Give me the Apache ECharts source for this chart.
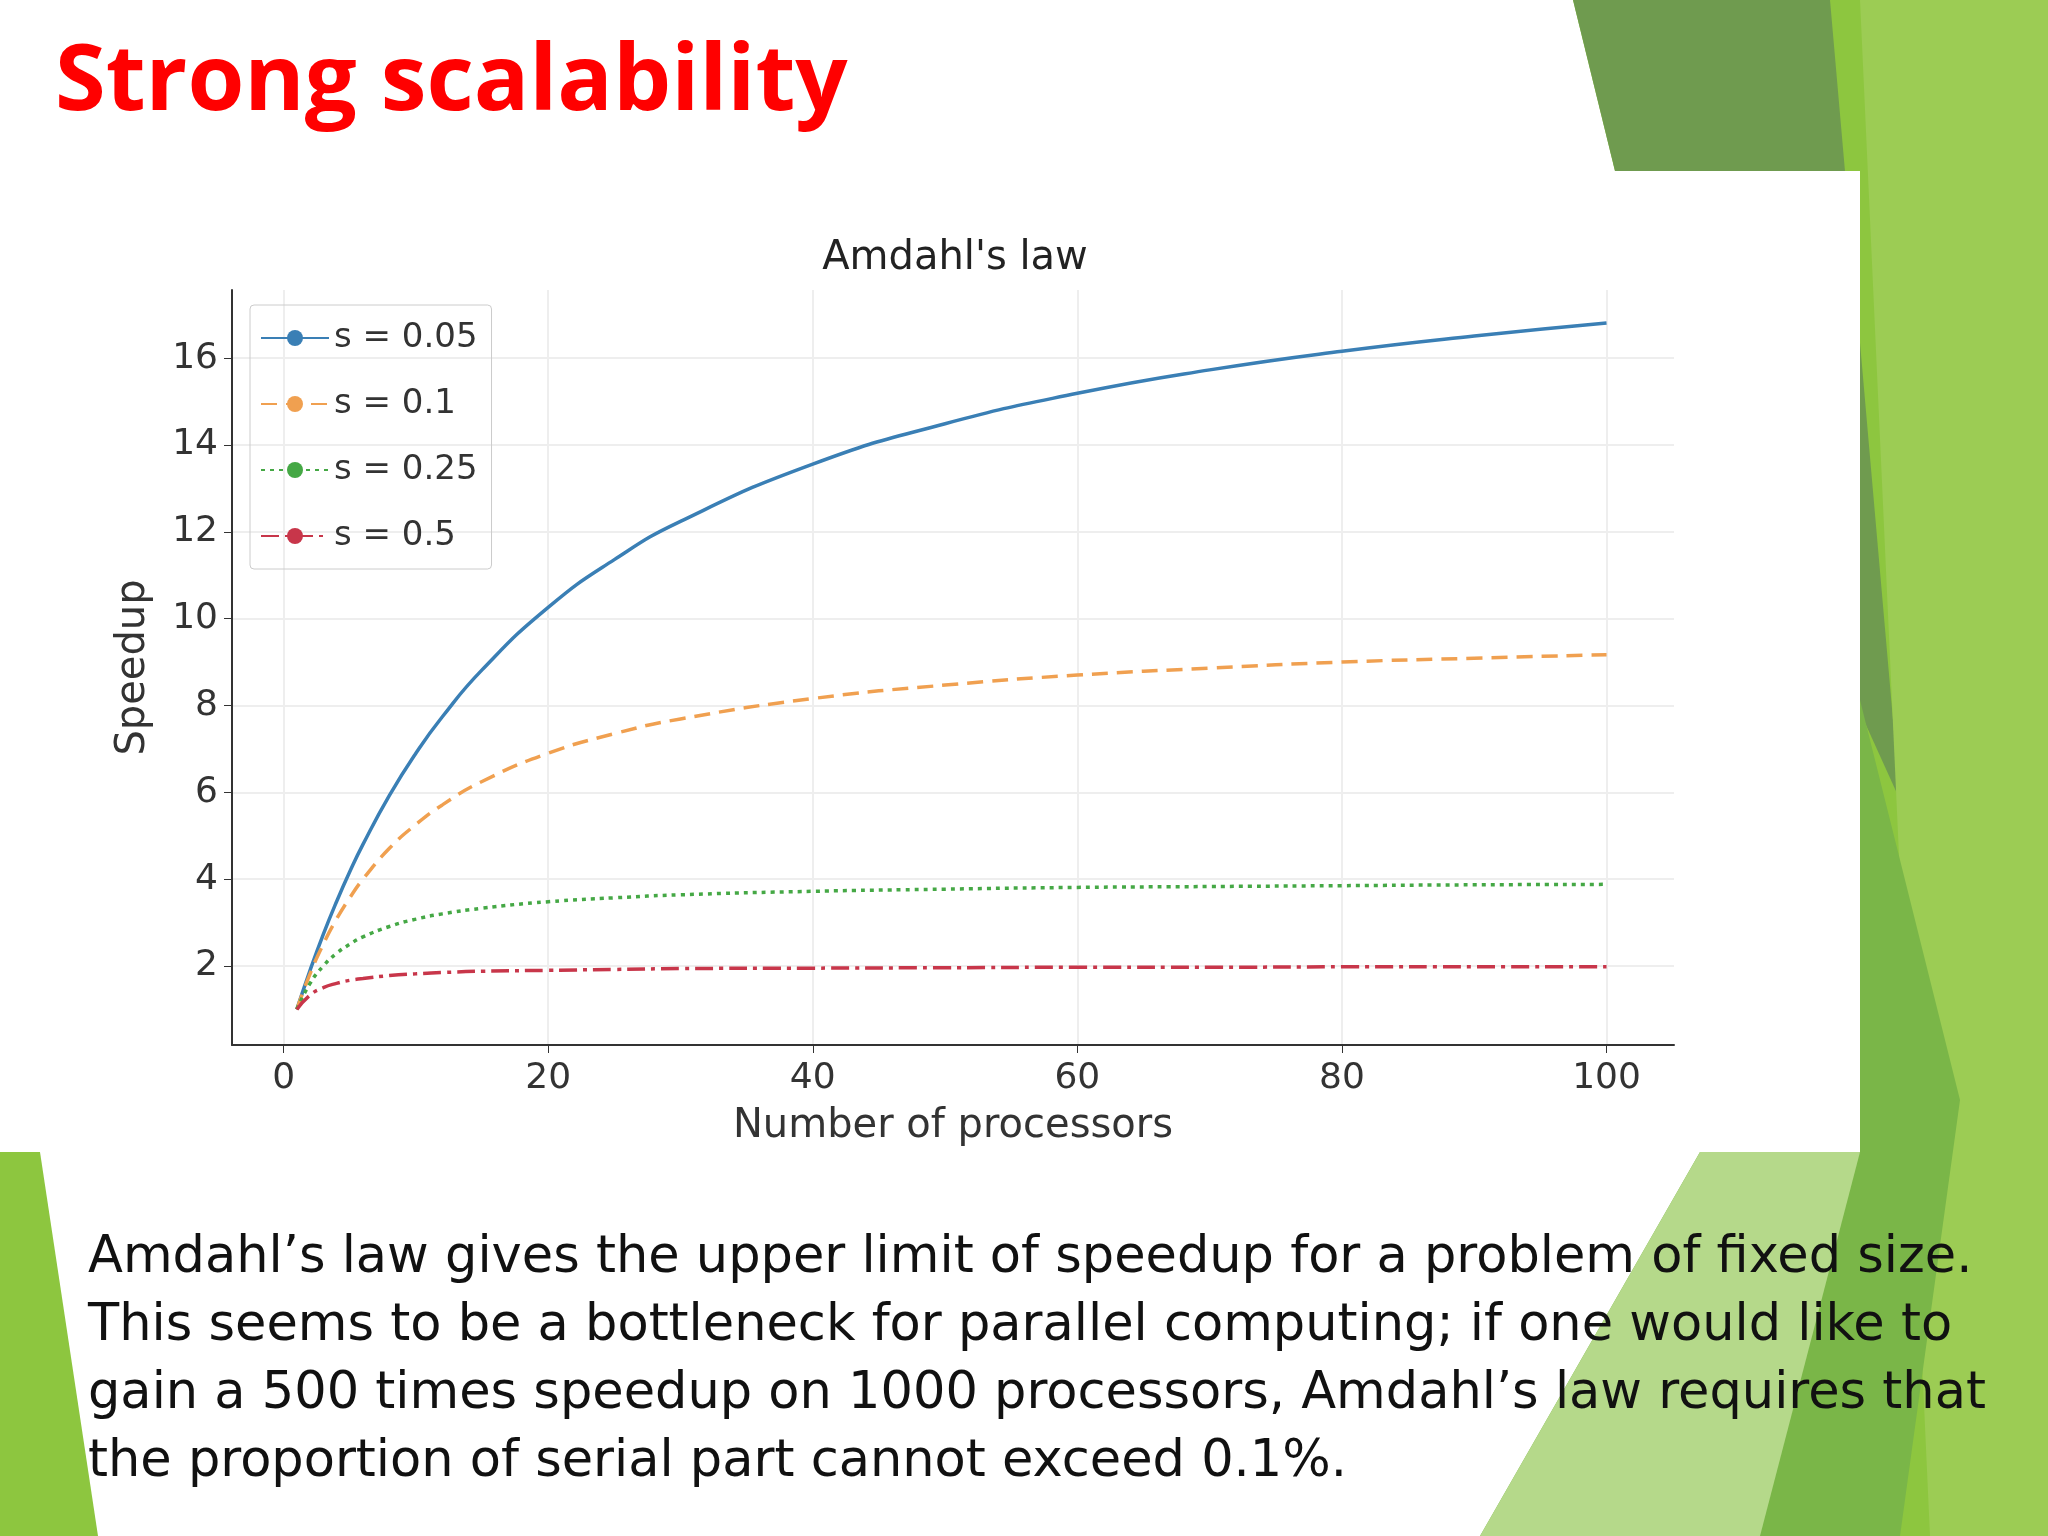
<!DOCTYPE html>
<html>
<head>
<meta charset="utf-8">
<script src="https://cdn.jsdelivr.net/npm/echarts@6/dist/echarts.min.js"></script>
<style>
html,body{margin:0;padding:0;background:#fff;}
#main{width:2048px;height:1536px;}
</style>
</head>
<body>
<div id="main"></div>
<script>
// 处理器数量
const procs = [1, 2, 3, 4, 5, 6, 8, 10, 12, 15, 20, 25, 30, 40, 50, 60, 70, 80, 90, 100];
// 各串行比例下的加速比
const s005 = [1, 1.90, 2.73, 3.48, 4.17, 4.80, 5.93, 6.90, 7.74, 8.82, 10.26, 11.36, 12.24, 13.56, 14.49, 15.19, 15.73, 16.16, 16.51, 16.81];
const s010 = [1, 1.82, 2.50, 3.08, 3.57, 4.00, 4.71, 5.26, 5.71, 6.25, 6.90, 7.35, 7.69, 8.16, 8.47, 8.70, 8.86, 9.00, 9.09, 9.17];
const s025 = [1, 1.60, 2.00, 2.29, 2.50, 2.67, 2.91, 3.08, 3.20, 3.33, 3.48, 3.57, 3.64, 3.72, 3.77, 3.81, 3.83, 3.85, 3.87, 3.88];
const s050 = [1, 1.33, 1.50, 1.60, 1.67, 1.71, 1.78, 1.82, 1.85, 1.88, 1.90, 1.92, 1.94, 1.95, 1.96, 1.97, 1.97, 1.98, 1.98, 1.98];
const seriesNames = ['s = 0.05', 's = 0.1', 's = 0.25', 's = 0.5'];
const xTicks = [0, 20, 40, 60, 80, 100];
const yTicks = [2, 4, 6, 8, 10, 12, 14, 16];

const font = 'DejaVu Sans';
const pair = arr => procs.map((p, i) => [p, arr[i]]);

// 线型配置
const styles = [
  {color: '#3a7fb5', type: 'solid'},
  {color: '#f0a050', type: [16, 9]},
  {color: '#45a845', type: [4, 5]},
  {color: '#c8364a', type: [18, 6, 4, 6]}
];
const allData = [s005, s010, s025, s050];

let myChart = echarts.init(document.getElementById('main'));
myChart.setOption({
  animation: false,
  backgroundColor: '#ffffff',
  title: {
    text: "Amdahl's law", left: 950, top: 234, textAlign: 'center',
    textStyle: {fontFamily: font, fontSize: 40, fontWeight: 'normal', color: '#222'}
  },
  legend: {
    orient: 'vertical', left: 250, top: 305, itemWidth: 68, itemHeight: 20, itemGap: 32,
    padding: [16, 14, 16, 10], borderColor: '#ccc', borderWidth: 1, borderRadius: 4,
    textStyle: {fontFamily: font, fontSize: 34, color: '#333'},
    data: seriesNames
  },
  grid: {left: 232, top: 290, width: 1442, height: 755},
  xAxis: {
    type: 'value', min: -3.9, max: 105.1,
    name: 'Number of processors', nameLocation: 'middle', nameGap: 62,
    nameTextStyle: {fontFamily: font, fontSize: 40, color: '#333'},
    axisLine: {onZero: false, lineStyle: {color: '#333', width: 2}},
    axisTick: {show: true, customValues: xTicks, length: 8, lineStyle: {color: '#333'}},
    axisLabel: {customValues: xTicks, fontFamily: font, fontSize: 36, color: '#333', margin: 16},
    splitLine: {show: true, customValues: xTicks, lineStyle: {color: '#eee', width: 2}}
  },
  yAxis: {
    type: 'value', min: 0.18, max: 17.57,
    name: 'Speedup', nameLocation: 'middle', nameGap: 78, nameRotate: 90,
    nameTextStyle: {fontFamily: font, fontSize: 40, color: '#333'},
    axisLine: {show: true, onZero: false, lineStyle: {color: '#333', width: 2}},
    axisTick: {show: true, customValues: yTicks, length: 8, lineStyle: {color: '#333'}},
    axisLabel: {customValues: yTicks, fontFamily: font, fontSize: 36, color: '#333', margin: 14},
    splitLine: {show: true, customValues: yTicks, lineStyle: {color: '#eee', width: 2}}
  },
  series: allData.map((d, i) => ({
    name: seriesNames[i], type: 'line', smooth: true, showSymbol: false, symbol: 'none',
    data: pair(d), color: styles[i].color,
    lineStyle: {color: styles[i].color, width: 3.5, type: styles[i].type}
  })),
  graphic: [
    // 右侧绿色装饰
    {type: 'polygon', z: -1, shape: {points: [[1573, 0], [2048, 0], [2048, 1536], [1860, 1536], [1615, 171]]}, style: {fill: '#8dc63f'}},
    {type: 'polygon', z: -1, shape: {points: [[1573, 0], [1830, 0], [1900, 800], [1615, 171]]}, style: {fill: '#6f9b4f'}},
    {type: 'polygon', z: -1, shape: {points: [[1860, 0], [2048, 0], [2048, 1536], [1930, 1536]]}, style: {fill: '#9ccc54'}},
    {type: 'polygon', z: -1, shape: {points: [[1860, 700], [1960, 1100], [1900, 1536], [1480, 1536], [1700, 1152], [1860, 1152]]}, style: {fill: '#7ab648'}},
    {type: 'polygon', z: -1, shape: {points: [[1700, 1152], [1860, 1152], [1760, 1536], [1480, 1536]]}, style: {fill: '#b5d98a'}},
    // 左下角绿色条
    {type: 'polygon', z: -1, shape: {points: [[0, 1152], [40, 1152], [98, 1536], [0, 1536]]}, style: {fill: '#8dc63f'}},
    // 图片白底
    {type: 'rect', z: -1, shape: {x: 0, y: 171, width: 1860, height: 981}, style: {fill: '#fff'}},
    {type: 'text', left: 55, top: 38, style: {text: 'Strong scalability', fontFamily: 'Open Sans', fontWeight: 'bold', fontSize: 92, fill: '#ff0000'}},
    {type: 'text', left: 88, top: 1225, style: {
      text: 'Amdahl’s law gives the upper limit of speedup for a problem of fixed size.\nThis seems to be a bottleneck for parallel computing; if one would like to\ngain a 500 times speedup on 1000 processors, Amdahl’s law requires that\nthe proportion of serial part cannot exceed 0.1%.',
      fontFamily: 'DejaVu Sans', fontSize: 51, lineHeight: 68, fill: '#111'}}
  ]
});
</script>
</body>
</html>
